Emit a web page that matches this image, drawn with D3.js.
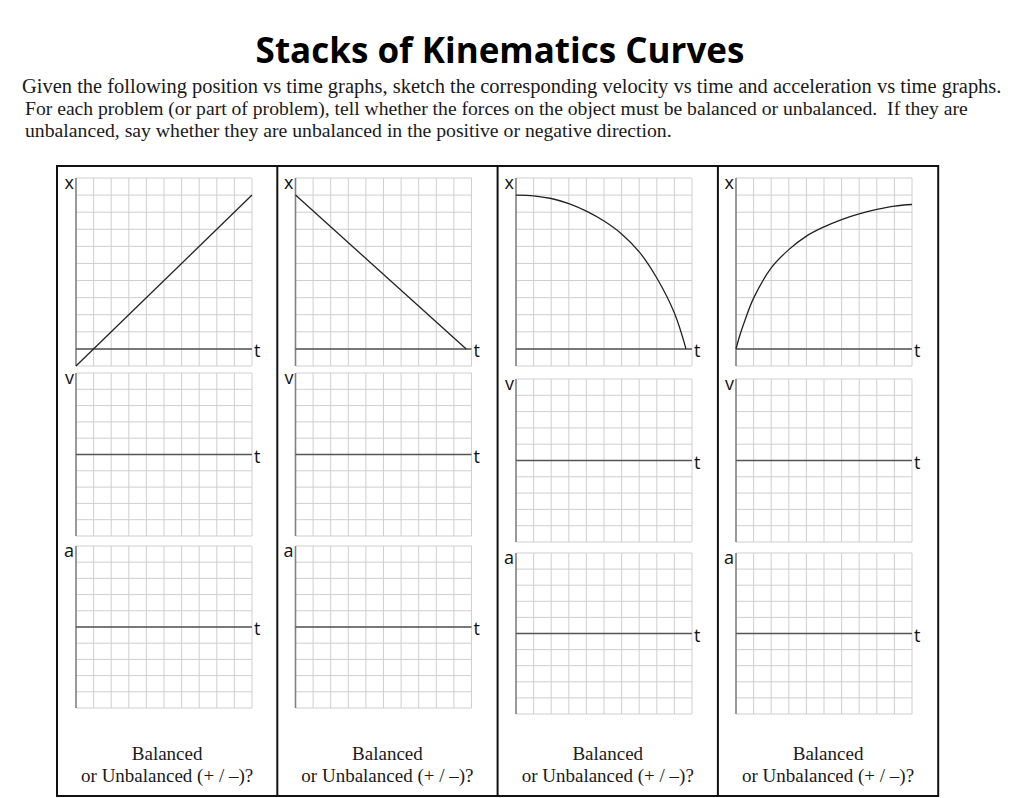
<!DOCTYPE html>
<html>
<head>
<meta charset="utf-8">
<script src="https://cdn.jsdelivr.net/npm/d3@7"></script>
<style>
  body { margin: 0; background: #fff; }
  svg { display: block; }
  text { white-space: pre; }
</style>
</head>
<body>
<div id="chart"></div>
<script>
var width = 1023;
var height = 798;

// text
var title = "Stacks of Kinematics Curves";
var introLines = [
  "Given the following position vs time graphs, sketch the corresponding velocity vs time and acceleration vs time graphs.",
  "For each problem (or part of problem), tell whether the forces on the object must be balanced or unbalanced.  If they are",
  "unbalanced, say whether they are unbalanced in the positive or negative direction."
];
var answerLines = ["Balanced", "or Unbalanced (+ / \u2013)?"];

// graph names (y variable) and their value ranges in grid squares
var graphVars = ["x", "v", "a"];
var graphDomains = [[-1, 10], [-5, 5], [-5, 5]];
var timeDomain = [0, 10];

// position curves (t in squares, x in squares)
var posTimes1 = [0, 10];
var posVals1 = [-1, 9];
var posTimes2 = [0, 9.7];
var posVals2 = [9, 0];
var posTimes3 = [0, 1, 2, 3, 4, 5, 6, 7, 8, 9, 9.66];
var posVals3 = [9, 8.96, 8.8, 8.5, 8.06, 7.48, 6.73, 5.68, 4.15, 2.1, 0];
var posTimes4 = [0, 0.25, 0.5, 1, 2, 3, 4, 5, 6, 7, 8, 9, 10];
var posVals4 = [0, 0.9, 1.65, 2.97, 4.74, 5.81, 6.6, 7.14, 7.57, 7.9, 8.16, 8.36, 8.45];

var posTimes = [posTimes1, posTimes2, posTimes3, posTimes4];
var posVals = [posVals1, posVals2, posVals3, posVals4];

// layout
var boxLeft = 57, boxTop = 166, boxBottom = 796, panelW = 220.3;
var gridLefts = [76, 295.5, 516, 736];
var gridW = 176;
// [top, bottom] of x, v, a grids; panels 3-4 sit a little lower
var gridRowsA = [[178, 366], [373, 536], [546, 708]];
var gridRowsB = [[178, 366], [379, 542], [553, 714]];

var svg = d3.select("#chart").append("svg")
  .attr("width", width)
  .attr("height", height);

// title
var titleText = svg.append("text")
  .attr("x", 500)
  .attr("y", 63)
  .attr("text-anchor", "middle")
  .style("font-family", "'Open Sans', sans-serif")
  .style("font-weight", 700)
  .style("font-size", "34px")
  .style("fill", "#000")
  .text(title);
var tw = titleText.node().getComputedTextLength();
titleText.style("font-size", (34 * 489 / tw) + "px");

// intro paragraph
var intro = svg.append("g")
  .style("font-family", "'Liberation Serif', serif")
  .style("fill", "#1a1a1a");
var introX = [22, 25, 25];
var introWidths = [980, 943, 647];
intro.selectAll("text")
  .data(introLines)
  .enter().append("text")
  .attr("x", function(d, i) { return introX[i]; })
  .attr("y", function(d, i) { return 93 + i * 22; })
  .style("font-size", "18px")
  .text(function(d) { return d; })
  .each(function(d, i) {
    var w = this.getComputedTextLength();
    d3.select(this).style("font-size", (18 * introWidths[i] / w) + "px");
  });

// panels
var line = d3.line().curve(d3.curveCatmullRom.alpha(0.5));

posTimes.forEach(function(times, p) {
  var g = svg.append("g").attr("class", "panel");
  var left = gridLefts[p];
  var rows = p < 2 ? gridRowsA : gridRowsB;
  var xScale = d3.scaleLinear().domain(timeDomain).range([left, left + gridW]);

  graphVars.forEach(function(name, k) {
    var dom = graphDomains[k];
    var yScale = d3.scaleLinear().domain(dom).range([rows[k][1], rows[k][0]]);
    var gg = g.append("g");

    // grid
    gg.selectAll(".vline")
      .data(d3.range(timeDomain[0] + 1, timeDomain[1] + 1))
      .enter().append("line")
      .attr("x1", function(d) { return xScale(d); })
      .attr("x2", function(d) { return xScale(d); })
      .attr("y1", yScale(dom[0]))
      .attr("y2", yScale(dom[1]))
      .attr("stroke", "#cfcfcf")
      .attr("stroke-width", 1);
    gg.selectAll(".hline")
      .data(d3.range(dom[0], dom[1] + 1))
      .enter().append("line")
      .attr("x1", xScale(0))
      .attr("x2", xScale(timeDomain[1]))
      .attr("y1", function(d) { return yScale(d); })
      .attr("y2", function(d) { return yScale(d); })
      .attr("stroke", "#cfcfcf")
      .attr("stroke-width", 1);

    // axes
    gg.append("line")
      .attr("x1", xScale(0)).attr("x2", xScale(0))
      .attr("y1", yScale(dom[0])).attr("y2", yScale(dom[1]))
      .attr("stroke", "#808080")
      .attr("stroke-width", 1.6);
    gg.append("line")
      .attr("x1", xScale(0)).attr("x2", xScale(timeDomain[1]))
      .attr("y1", yScale(0)).attr("y2", yScale(0))
      .attr("stroke", "#555")
      .attr("stroke-width", 1.5);

    // labels
    gg.append("text")
      .attr("x", xScale(0) - 2)
      .attr("y", yScale(dom[1]) + 11)
      .attr("text-anchor", "end")
      .style("font-family", "'Open Sans', sans-serif")
      .style("font-size", "18px")
      .style("fill", "#111")
      .text(name);
    gg.append("text")
      .attr("x", xScale(timeDomain[1]) + 2)
      .attr("y", yScale(0) + 8)
      .style("font-family", "'Open Sans', sans-serif")
      .style("font-size", "18px")
      .style("fill", "#111")
      .text("t");

    // position curve
    if (name === "x") {
      var pts = times.map(function(t, j) { return [xScale(t), yScale(posVals[p][j])]; });
      gg.append("path")
        .attr("d", line(pts))
        .attr("fill", "none")
        .attr("stroke", "#222")
        .attr("stroke-width", 1.3);
    }
  });

  // answer text
  var cx = boxLeft + panelW * (p + 0.5);
  g.selectAll(".ans")
    .data(answerLines)
    .enter().append("text")
    .attr("x", cx)
    .attr("y", function(d, i) { return 760 + i * 22; })
    .attr("text-anchor", "middle")
    .style("font-family", "'Liberation Serif', serif")
    .style("font-size", "19px")
    .style("fill", "#1a1a1a")
    .text(function(d) { return d; });
});

// boxes
svg.append("rect")
  .attr("x", boxLeft)
  .attr("y", boxTop)
  .attr("width", panelW * 4)
  .attr("height", boxBottom - boxTop)
  .attr("fill", "none")
  .attr("stroke", "#111")
  .attr("stroke-width", 2);
svg.selectAll(".divider")
  .data([1, 2, 3])
  .enter().append("line")
  .attr("x1", function(d) { return boxLeft + panelW * d; })
  .attr("x2", function(d) { return boxLeft + panelW * d; })
  .attr("y1", boxTop)
  .attr("y2", boxBottom)
  .attr("stroke", "#111")
  .attr("stroke-width", 2);
</script>
</body>
</html>
